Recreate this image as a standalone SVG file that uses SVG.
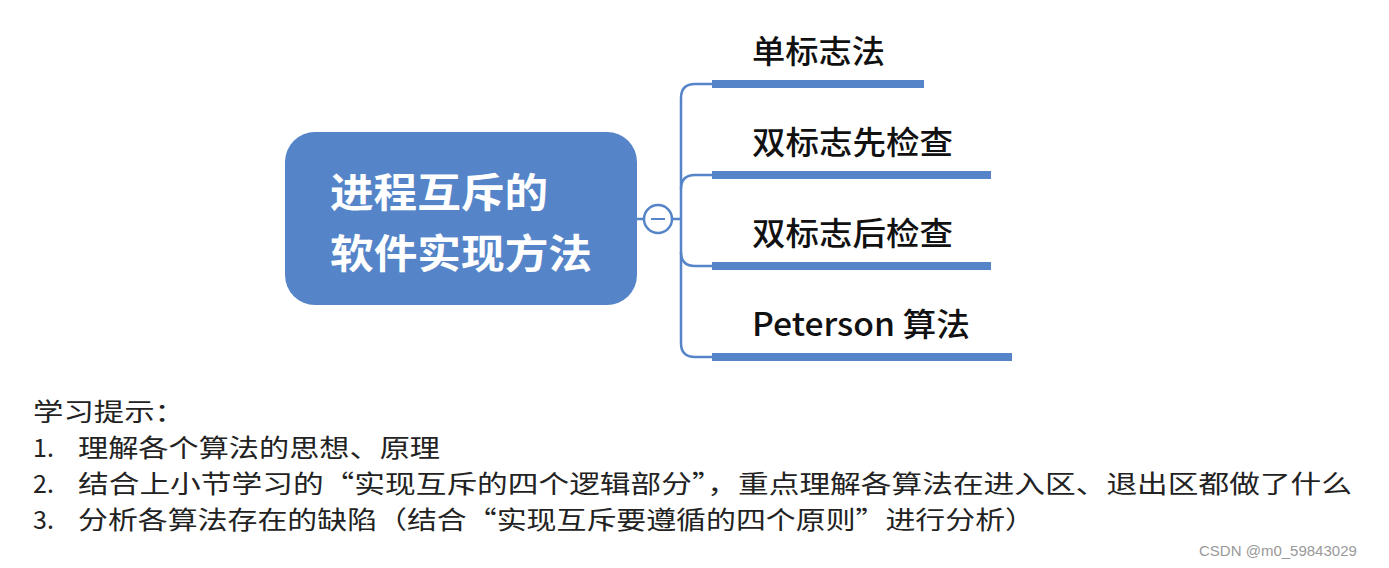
<svg xmlns="http://www.w3.org/2000/svg" width="1389" height="568" viewBox="0 0 1389 568">
<style>
.cn{font-family:"Noto Sans CJK SC","Liberation Sans",sans-serif}
.br{font-size:32px;fill:#111;font-weight:500}
.ul{stroke:#5585c8;stroke-width:8}
.tip{font-size:25px;fill:#222}
</style>
<rect width="1389" height="568" fill="#fff"/>
<g id="root">
<rect x="285" y="132" width="352" height="173" rx="30" fill="#5585c8"/>
<text class="cn" x="330" y="207" font-size="40" font-weight="bold" fill="#fff" textLength="218" lengthAdjust="spacingAndGlyphs">进程互斥的</text>
<text class="cn" x="330" y="268" font-size="40" font-weight="bold" fill="#fff" textLength="262" lengthAdjust="spacingAndGlyphs">软件实现方法</text>
</g>
<g id="connectors" fill="none" stroke="#5585c8" stroke-width="2.5">
<line x1="637" y1="219" x2="644" y2="219"/>
<line x1="672" y1="219" x2="681" y2="219"/>
<path d="M712 84 H695 Q681 84 681 98 V343 Q681 357 695 357 H712"/>
<path d="M712 175 H695 Q681 175 681 189"/>
<path d="M712 266 H695 Q681 266 681 252"/>
<circle cx="658" cy="219" r="14" fill="#fff"/>
<line x1="651" y1="219" x2="665" y2="219" stroke-width="2"/>
</g>
<g id="b1"><text class="cn br" x="752" y="63" textLength="133" lengthAdjust="spacingAndGlyphs">单标志法</text><line class="ul" x1="712" y1="84" x2="924" y2="84"/></g>
<g id="b2"><text class="cn br" x="752" y="154" textLength="201" lengthAdjust="spacingAndGlyphs">双标志先检查</text><line class="ul" x1="712" y1="175" x2="991" y2="175"/></g>
<g id="b3"><text class="cn br" x="752" y="245" textLength="201" lengthAdjust="spacingAndGlyphs">双标志后检查</text><line class="ul" x1="712" y1="266" x2="991" y2="266"/></g>
<g id="b4"><text class="cn br" x="752" y="336" textLength="218" lengthAdjust="spacingAndGlyphs">Peterson 算法</text><line class="ul" x1="712" y1="357" x2="1012" y2="357"/></g>
<g id="tips" class="cn tip">
<text x="33" y="421" textLength="152" lengthAdjust="spacingAndGlyphs">学习提示：</text>
<text x="33" y="457">1.</text><text x="78" y="457" textLength="362" lengthAdjust="spacingAndGlyphs">理解各个算法的思想、原理</text>
<text x="33" y="493">2.</text><text x="78" y="493" textLength="1274" lengthAdjust="spacingAndGlyphs">结合上小节学习的“实现互斥的四个逻辑部分”，重点理解各算法在进入区、退出区都做了什么</text>
<text x="33" y="529">3.</text><text x="78" y="529" textLength="957" lengthAdjust="spacingAndGlyphs">分析各算法存在的缺陷（结合“实现互斥要遵循的四个原则”进行分析）</text>
</g>
<text x="1199" y="556" font-family="Liberation Sans,sans-serif" font-size="15" fill="#999">CSDN @m0_59843029</text>
</svg>
